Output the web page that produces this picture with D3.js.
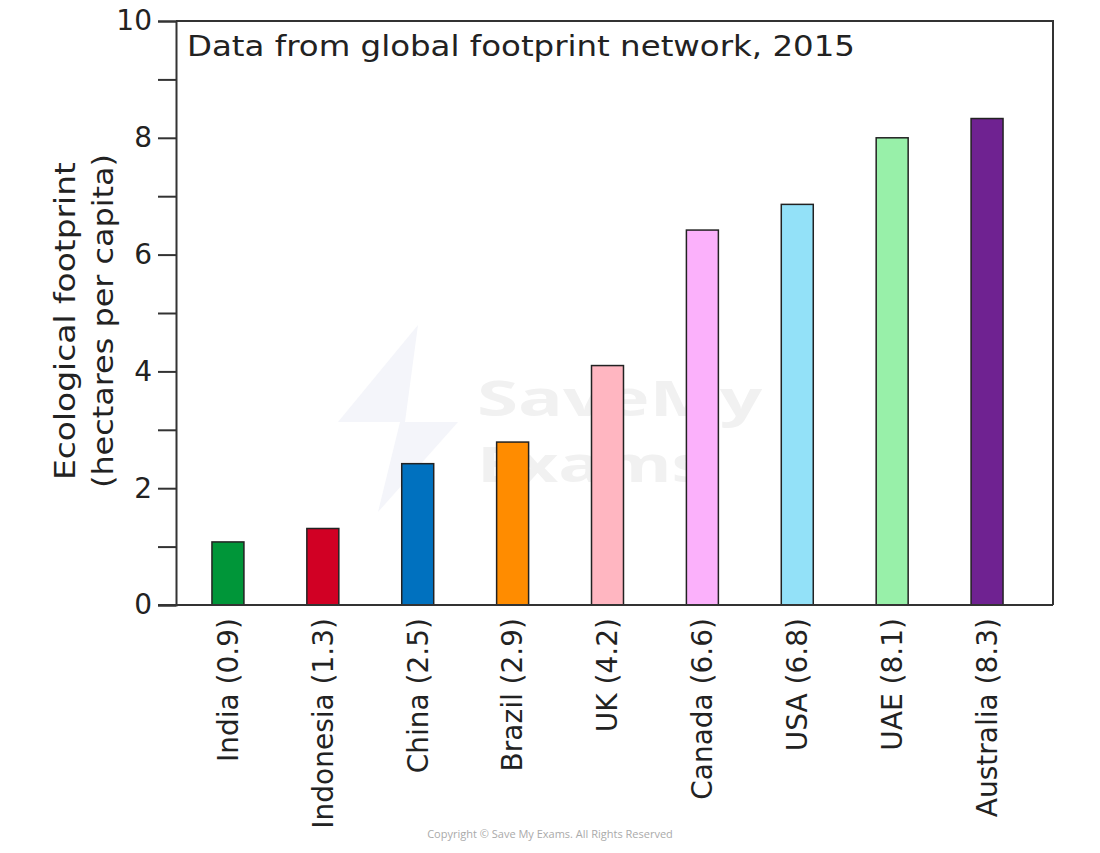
<!DOCTYPE html>
<html><head><meta charset="utf-8">
<script src="https://cdn.jsdelivr.net/npm/d3@7"></script>
<style>body{margin:0;background:#fff}svg{display:block}</style>
</head><body>
<script>
const categories = ["India (0.9)","Indonesia (1.3)","China (2.5)","Brazil (2.9)","UK (4.2)","Canada (6.6)","USA (6.8)","UAE (8.1)","Australia (8.3)"];
const values = [1.08,1.31,2.42,2.79,4.1,6.42,6.86,8.0,8.33];
const colors = ["#009639","#d10024","#0071bf","#ff8c00","#ffb6c1","#fbb1fb","#93e1f8","#98f0a9","#6f2291"];
const yTicks = [0,1,2,3,4,5,6,7,8,9,10];
const yTickLabels = [0,2,4,6,8,10];
const titleText = "Data from global footprint network, 2015";
const yTitle = ["Ecological footprint","(hectares per capita)"];

const W=1100,H=853;
const font = "'DejaVu Sans', sans-serif";
const svg = d3.select("body").append("svg").attr("width",W).attr("height",H);
const L=176,R=1053,T=21,B=605;
const x = d3.scaleBand().domain(categories).range([180.5,1034.5]).paddingInner(0.663).paddingOuter(0.3315);
const y = d3.scaleLinear().domain([0,10]).range([B,T]);

// watermark
svg.append("polygon").attr("points","418,325 338,422 400,422 378,512 458,422 405,422").attr("fill","#f4f5fa");
const wm = svg.append("g").attr("fill","#f1f1f1").attr("font-family","'Open Sans', sans-serif").attr("font-weight","bold").attr("font-size",48);
wm.append("text").attr("x",477).attr("y",416).attr("textLength",285).attr("lengthAdjust","spacingAndGlyphs").text("SaveMy");
wm.append("text").attr("x",477).attr("y",482).attr("textLength",230).attr("lengthAdjust","spacingAndGlyphs").text("Exams");

// bars
svg.append("g").selectAll("rect").data(values).join("rect")
  .attr("x",(d,i)=>x(categories[i])).attr("width",x.bandwidth())
  .attr("y",d=>y(d)).attr("height",d=>B-y(d))
  .attr("fill",(d,i)=>colors[i]).attr("stroke","#222").attr("stroke-width",1.5);

// frame
svg.append("path").attr("d",`M${L},${T}H${R}V${B}`).attr("fill","none").attr("stroke","#333").attr("stroke-width",2);

// y axis
const yAxis = d3.axisLeft(y).tickValues(yTicks).tickSize(18).tickFormat(d=>yTickLabels.includes(d)?d:"").tickPadding(6);
const gy = svg.append("g").attr("transform",`translate(${L},0)`).call(yAxis);
gy.select(".domain").attr("stroke","#333").attr("stroke-width",2);
gy.selectAll(".tick line").attr("stroke","#333").attr("stroke-width",2);
gy.selectAll(".tick text").attr("font-family",font).attr("font-size",28).attr("fill","#222");

// x axis
const xAxis = d3.axisBottom(x).tickSize(0).tickPadding(12);
const gx = svg.append("g").attr("transform",`translate(0,${B})`).call(xAxis);
gx.select(".domain").attr("d",`M${L-18},0H${R}`).attr("stroke","#333").attr("stroke-width",2);
gx.selectAll(".tick text").attr("font-family",font).attr("font-size",28).attr("fill","#222")
  .attr("transform","rotate(-90)").attr("text-anchor","end").attr("dy","0.35em").attr("x",-13).attr("y",0);

// title
svg.append("text").attr("x",187).attr("y",56).attr("font-family",font).attr("font-size",29).attr("fill","#222")
  .attr("textLength",668).attr("lengthAdjust","spacingAndGlyphs").text(titleText);

// y title
const yt = svg.append("text").attr("transform","translate(0,321) rotate(-90)").attr("font-family",font).attr("font-size",28).attr("fill","#222").attr("text-anchor","middle");
yt.append("tspan").attr("x",0).attr("y",75).attr("textLength",318).attr("lengthAdjust","spacingAndGlyphs").text(yTitle[0]);
yt.append("tspan").attr("x",0).attr("y",113).attr("textLength",334).attr("lengthAdjust","spacingAndGlyphs").text(yTitle[1]);

// copyright
svg.append("text").attr("x",550).attr("y",838).attr("text-anchor","middle").attr("font-family","'Open Sans', sans-serif").attr("font-size",11).attr("fill","#aaa").text("Copyright © Save My Exams. All Rights Reserved");
</script>
</body></html>
